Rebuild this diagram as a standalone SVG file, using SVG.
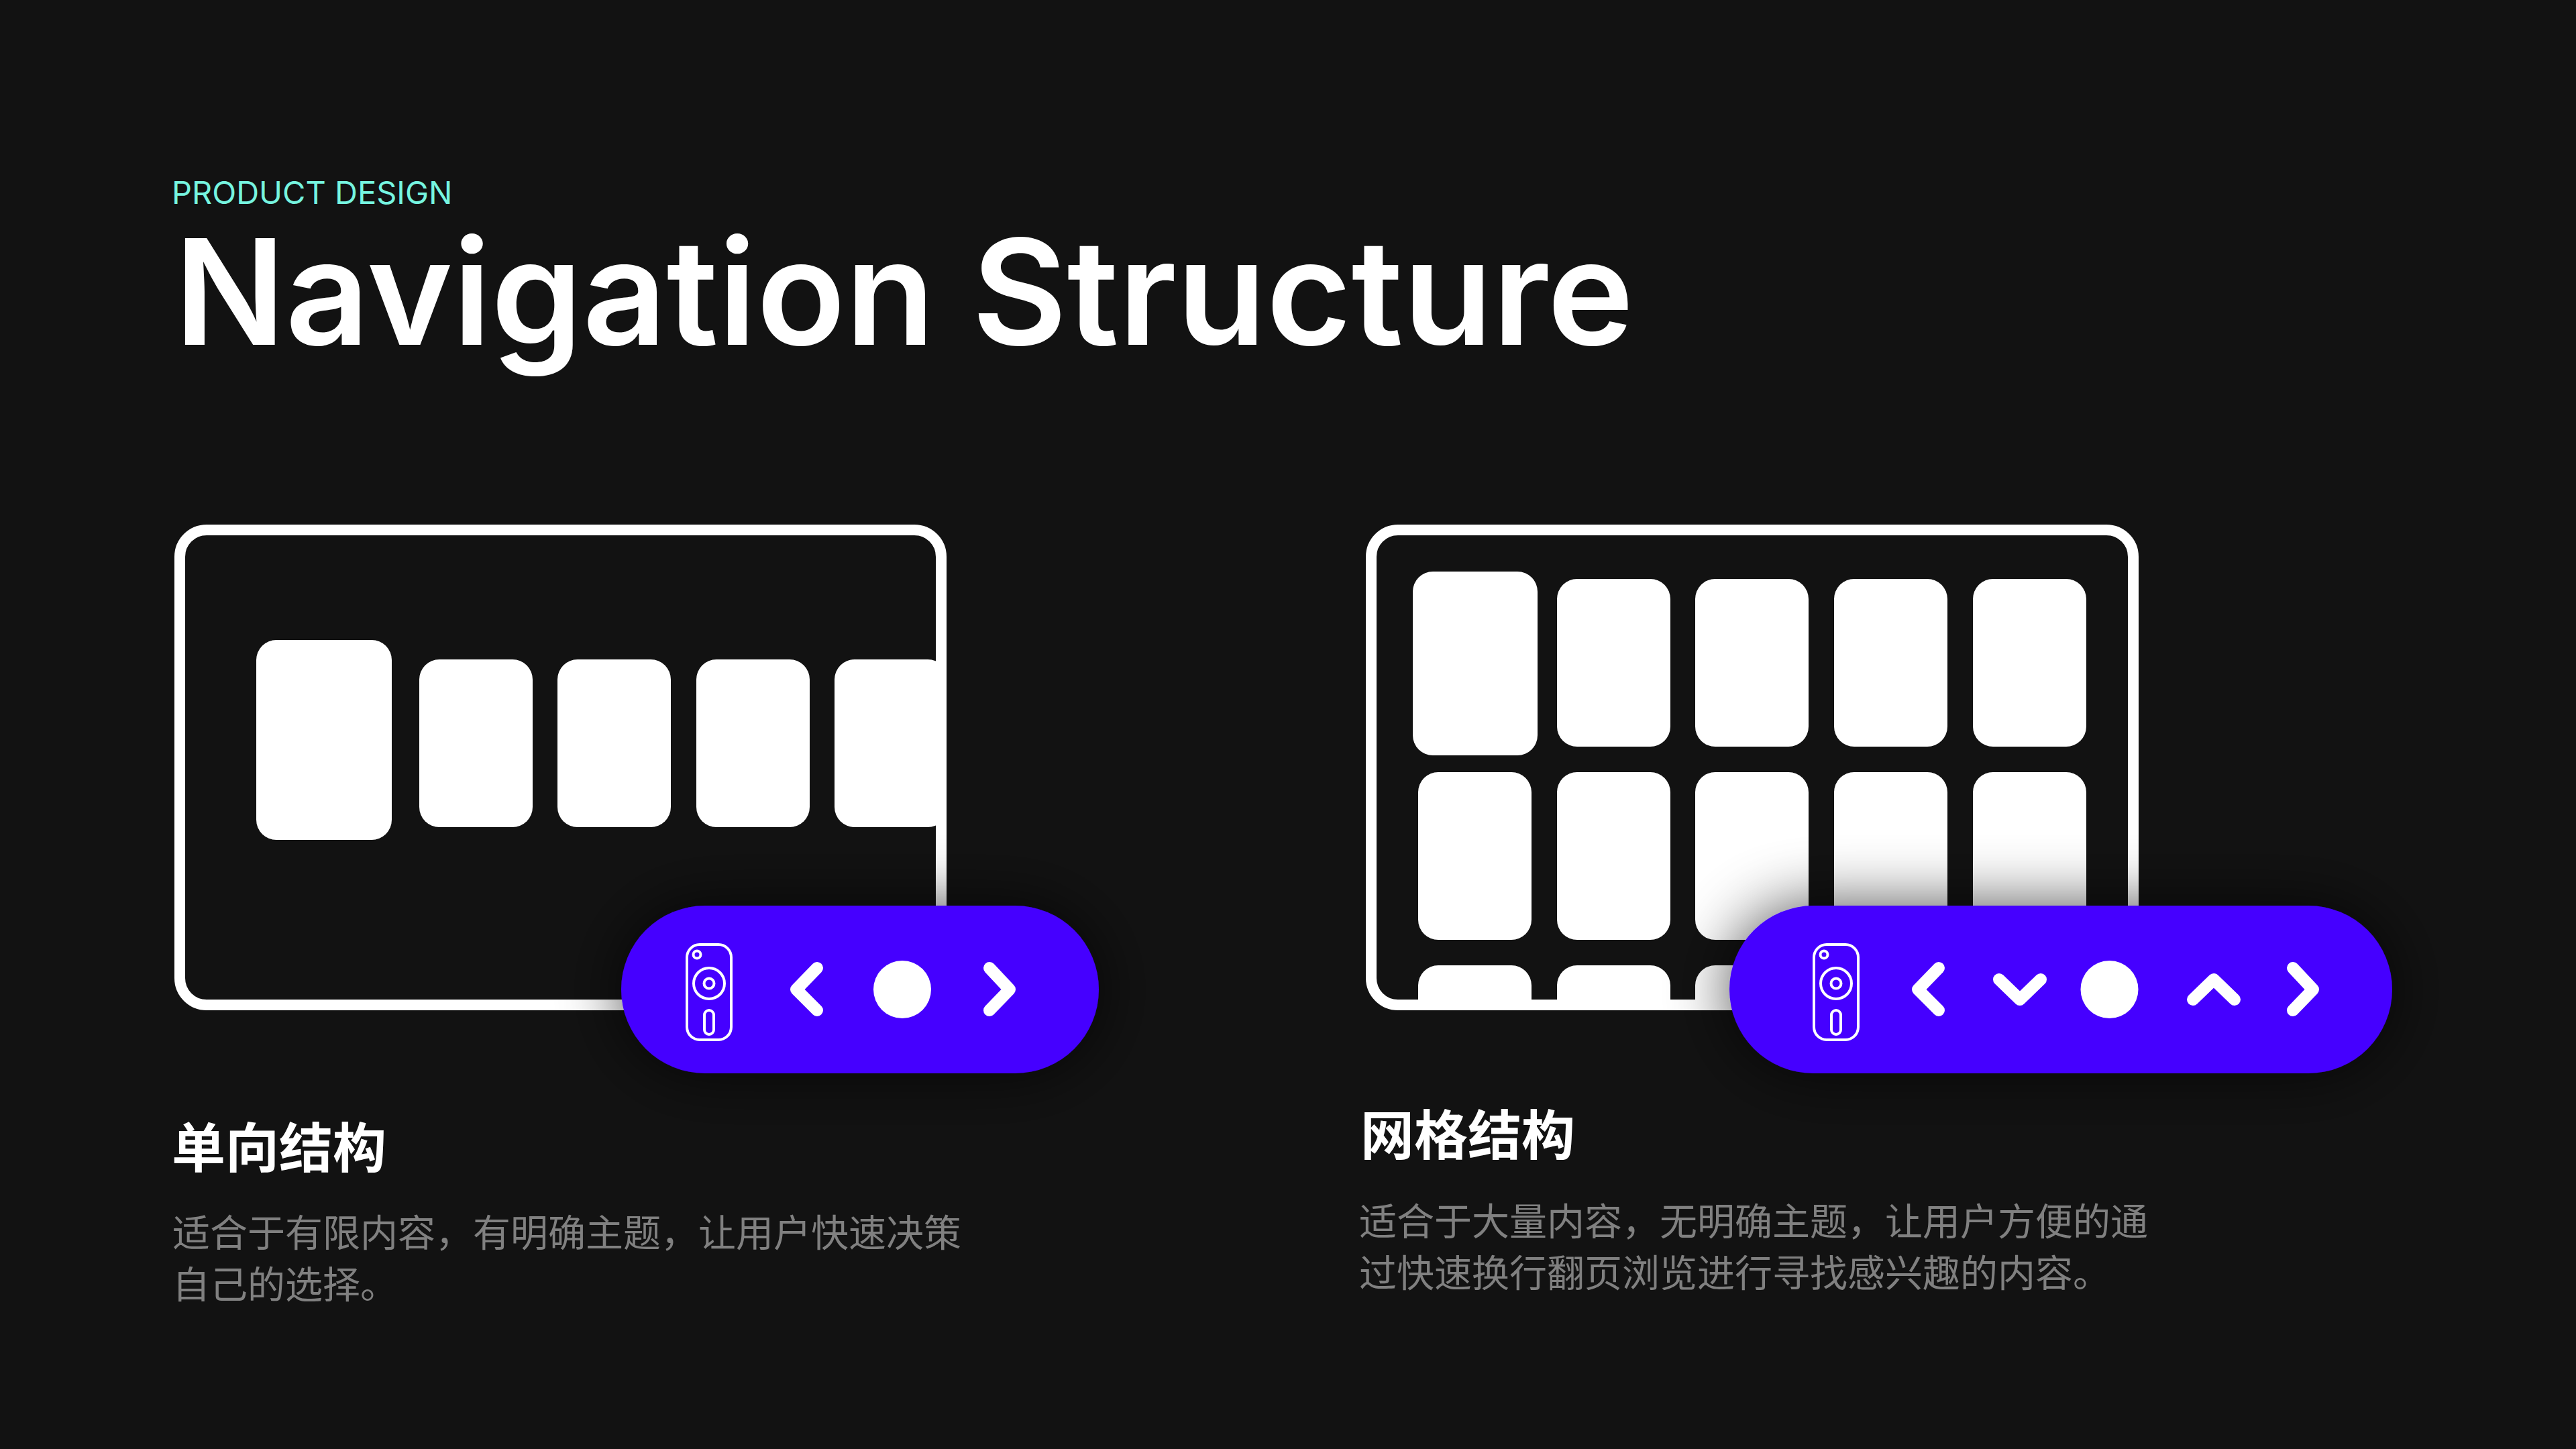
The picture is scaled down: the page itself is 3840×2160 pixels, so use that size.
<svg xmlns="http://www.w3.org/2000/svg" width="3840" height="2160" viewBox="0 0 3840 2160">
<style>
.frame{fill:none;stroke:#fff;stroke-width:16}
.card{fill:#fff}
.pill{fill:#4500ff;filter:url(#sh)}
.ol{fill:none;stroke:#fff;stroke-width:4}
.chev{fill:none;stroke:#fff;stroke-width:18;stroke-linecap:round;stroke-linejoin:round}
.kicker{font-family:"Inter","Liberation Sans",sans-serif;font-size:47px;font-weight:400;fill:#76f5e0}
.title{font-family:"Inter","Liberation Sans",sans-serif;font-size:218px;font-weight:600;fill:#fff}
.h{font-family:"Noto Sans CJK SC","Noto Sans",sans-serif;font-size:80px;font-weight:700;fill:#fff}
.b{font-family:"Noto Sans CJK SC","Noto Sans",sans-serif;font-size:56px;font-weight:400;fill:#808080}
</style>
<defs>
<filter id="sh" x="-30%" y="-100%" width="160%" height="300%"><feGaussianBlur in="SourceAlpha" stdDeviation="48"/><feComponentTransfer result="s"><feFuncA type="linear" slope="0.7"/></feComponentTransfer><feMerge><feMergeNode in="s"/><feMergeNode in="SourceGraphic"/></feMerge></filter>
<clipPath id="c1"><rect x="268" y="790" width="1135" height="708" rx="40"/></clipPath>
<clipPath id="c2"><rect x="2044" y="790" width="1136" height="708" rx="40"/></clipPath>
<g id="phone"><rect class="ol" x="2" y="2" width="66" height="142" rx="19"/><circle class="ol" cx="17" cy="17" r="5.5"/><circle class="ol" cx="35" cy="60" r="23"/><circle class="ol" cx="35" cy="60" r="7.5"/><rect class="ol" x="28" y="100" width="14" height="36" rx="7"/></g>
</defs>
<rect width="3840" height="2160" fill="#121212"/>
<g id="header">
<text class="kicker" x="256" y="304">PRODUCT DESIGN</text>
<text class="title" x="260" y="514">Navigation Structure</text>
</g>
<g id="single-structure">
<rect class="frame" x="268" y="790" width="1135" height="708" rx="40"/>
<g clip-path="url(#c1)">
<rect class="card" x="382" y="954" width="202" height="298" rx="30"/>
<rect class="card" x="625" y="983" width="169" height="250" rx="30"/>
<rect class="card" x="831" y="983" width="169" height="250" rx="30"/>
<rect class="card" x="1038" y="983" width="169" height="250" rx="30"/>
<rect class="card" x="1244" y="983" width="169" height="250" rx="30"/>
</g>
<rect class="pill" x="926" y="1350" width="712" height="250" rx="125"/>
<use href="#phone" x="1022" y="1406"/>
<path class="chev" d="M1218 1443L1187 1475L1218 1506"/>
<circle cx="1345" cy="1475" r="43" fill="#fff"/>
<path class="chev" d="M1475 1443L1505 1475L1475 1506"/>
<text class="h" x="256" y="1740">单向结构</text>
<text class="b" x="257" y="1858">适合于有限内容，有明确主题，让用户快速决策</text>
<text class="b" x="257" y="1935">自己的选择。</text>
</g>
<g id="grid-structure">
<rect class="frame" x="2044" y="790" width="1136" height="708" rx="40"/>
<g clip-path="url(#c2)">
<rect class="card" x="2106" y="852" width="186" height="274" rx="30"/>
<rect class="card" x="2321" y="863" width="169" height="250" rx="30"/>
<rect class="card" x="2527" y="863" width="169" height="250" rx="30"/>
<rect class="card" x="2734" y="863" width="169" height="250" rx="30"/>
<rect class="card" x="2941" y="863" width="169" height="250" rx="30"/>
<rect class="card" x="2114" y="1151" width="169" height="250" rx="30"/>
<rect class="card" x="2321" y="1151" width="169" height="250" rx="30"/>
<rect class="card" x="2527" y="1151" width="169" height="250" rx="30"/>
<rect class="card" x="2734" y="1151" width="169" height="250" rx="30"/>
<rect class="card" x="2941" y="1151" width="169" height="250" rx="30"/>
<rect class="card" x="2114" y="1439" width="169" height="250" rx="30"/>
<rect class="card" x="2321" y="1439" width="169" height="250" rx="30"/>
<rect class="card" x="2527" y="1439" width="169" height="250" rx="30"/>
</g>
<rect class="pill" x="2578" y="1350" width="988" height="250" rx="125"/>
<use href="#phone" x="2702" y="1406"/>
<path class="chev" d="M2890 1443L2859 1475L2890 1506"/>
<path class="chev" d="M2980 1460L3011 1490L3042 1460"/>
<circle cx="3144.500" cy="1475" r="43" fill="#fff"/>
<path class="chev" d="M3269 1490L3300 1460L3331 1490"/>
<path class="chev" d="M3418 1443L3448 1475L3418 1506"/>
<text class="h" x="2028" y="1721">网格结构</text>
<text class="b" x="2026" y="1841">适合于大量内容，无明确主题，让用户方便的通</text>
<text class="b" x="2026" y="1918">过快速换行翻页浏览进行寻找感兴趣的内容。</text>
</g>
</svg>
